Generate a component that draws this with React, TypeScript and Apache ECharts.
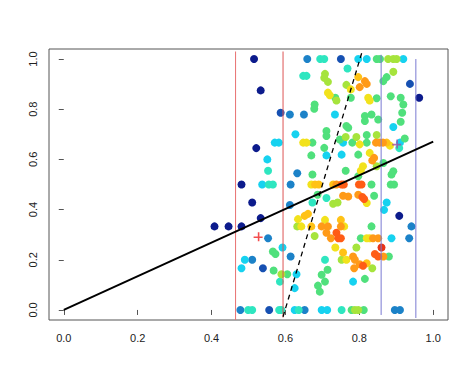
import React, { useEffect, useRef } from "react";
import * as echarts from "echarts";

// tick labels
const tickValues = [0, 0.2, 0.4, 0.6, 0.8, 1.0];

// scatter points grouped by colour class, [x, y]
const navy = [[0.515,1.0],[0.533,0.875],[0.962,0.846],[0.521,0.645],[0.481,0.5],[0.510,0.428],[0.408,0.333],[0.446,0.333],[0.481,0.333],[0.533,0.366],[0.908,0.375]];
const darkBlue = [[0.750,1.0],[0.937,0.901],[0.587,0.786],[0.539,0.166],[0.556,0]];
const blue = [[0.659,1.0],[0.612,0.779],[0.650,0.779],[0.632,0.545],[0.614,0.5],[0.612,0.418],[0.941,0.333],[0.935,0.286],[0.553,0.286],[0.614,0.213],[0.510,0.200],[0.478,0],[0.652,0],[0.896,0],[0.910,0]];
const cyan = [[0.797,1.0],[0.820,1.0],[0.919,1.0],[0.734,0.779],[0.892,0.729],[0.627,0.700],[0.571,0.667],[0.582,0.667],[0.756,0.667],[0.910,0.667],[0.551,0.600],[0.711,0.616],[0.752,0.619],[0.537,0.5],[0.874,0.428],[0.867,0.399],[0.887,0.286],[0.592,0.249],[0.490,0.200],[0.481,0.166],[0.630,0.142],[0.625,0.087],[0.783,0.113],[0.625,0],[0.698,0],[0.713,0]];
const teal = [[0.694,1.0],[0.705,1.0],[0.648,0.933],[0.657,0.933],[0.768,0.962],[0.908,0.645],[0.553,0.555],[0.555,0.5],[0.566,0.5],[0.711,0.446],[0.673,0.428],[0.707,0.200],[0.585,0.113],[0.499,0],[0.510,0],[0.583,0],[0.589,0],[0.636,0],[0.752,0]];
const green = [[0.847,1.0],[0.856,1.0],[0.865,0.912],[0.874,0.928],[0.735,0.846],[0.777,0.846],[0.847,0.844],[0.885,0.852],[0.912,0.846],[0.919,0.819],[0.679,0.819],[0.678,0.802],[0.815,0.773],[0.815,0.753],[0.833,0.779],[0.851,0.759],[0.916,0.786],[0.912,0.750],[0.765,0.733],[0.770,0.726],[0.711,0.713],[0.711,0.693],[0.820,0.697],[0.923,0.683],[0.747,0.679],[0.673,0.667],[0.781,0.667],[0.820,0.667],[0.705,0.646],[0.670,0.616],[0.797,0.619],[0.673,0.540],[0.865,0.586],[0.892,0.553],[0.887,0.540],[0.797,0.533],[0.763,0.555],[0.833,0.5],[0.885,0.5],[0.894,0.5],[0.687,0.459],[0.840,0.455],[0.833,0.333],[0.804,0.286],[0.880,0.213],[0.566,0.233],[0.573,0.223],[0.568,0.157],[0.605,0.142],[0.714,0.160],[0.698,0.140],[0.707,0.113],[0.688,0.097],[0.693,0.073],[0.815,0.124],[0.779,0],[0.812,0]];
const yellowGreen = [[0.878,1.0],[0.892,1.0],[0.901,1.0],[0.707,0.941],[0.705,0.925],[0.715,0.909],[0.765,0.897],[0.892,0.949],[0.738,0.835],[0.792,0.689],[0.763,0.689],[0.847,0.697],[0.847,0.573],[0.729,0.423],[0.741,0.428],[0.632,0.333],[0.679,0.295],[0.792,0.249],[0.752,0.200],[0.835,0.166],[0.589,0.142],[0.788,0],[0.797,0]];
const yellow = [[0.777,0.879],[0.715,0.866],[0.720,0.856],[0.824,0.846],[0.828,0.835],[0.801,0.660],[0.648,0.667],[0.657,0.667],[0.883,0.655],[0.828,0.626],[0.810,0.573],[0.804,0.555],[0.670,0.5],[0.820,0.426],[0.634,0.362],[0.643,0.333],[0.707,0.359],[0.759,0.333],[0.820,0.286],[0.828,0.286],[0.735,0.249],[0.765,0.200]];
const orangeYellow = [[0.797,0.928],[0.874,0.667],[0.680,0.5],[0.690,0.5],[0.729,0.5],[0.652,0.375],[0.661,0.383],[0.670,0.333],[0.750,0.359],[0.756,0.229],[0.820,0.186]];
const orange = [[0.815,0.912],[0.820,0.901],[0.801,0.888],[0.845,0.667],[0.855,0.667],[0.864,0.667],[0.840,0.606],[0.835,0.596],[0.738,0.5],[0.756,0.455],[0.770,0.452],[0.797,0.459],[0.698,0.333],[0.715,0.333],[0.750,0.333],[0.711,0.308],[0.723,0.286],[0.837,0.286],[0.851,0.286],[0.865,0.213],[0.783,0.213],[0.788,0.200],[0.801,0.182],[0.786,0.166]];
const redOrange = [[0.752,0.5],[0.758,0.5],[0.799,0.5],[0.806,0.5],[0.808,0.450],[0.813,0.442],[0.738,0.308],[0.743,0.286],[0.750,0.286],[0.842,0.223],[0.851,0.213],[0.810,0.176]];
const red = [[0.860,0.249]];

// vertical reference segments
const vlineX = [0.465, 0.5935, 0.859, 0.953];
const vlineTop = [1.03, 1.03, 1.017, 1.0];
const vlineBottom = [-0.04, -0.03, -0.02, -0.032];

// fitted lines
const solidLine = [[0, 0], [1, 0.671]];
const dashedLine = [[0.5935, -0.027], [0.8076, 1.03]];

// plus markers
const redPlus = [[0.526, 0.292]];
const purplePlus = [[0.901, 0.661]];

const groups: [number[][], string][] = [
  [navy, "#0c1b8c"],
  [darkBlue, "#1650b2"],
  [blue, "#1c82c8"],
  [cyan, "#16d2f0"],
  [teal, "#2ee6c0"],
  [green, "#50e07c"],
  [yellowGreen, "#a6e43c"],
  [yellow, "#f2e21c"],
  [orangeYellow, "#ffc216"],
  [orange, "#ff9a18"],
  [redOrange, "#ff5c16"],
  [red, "#e8341a"],
];
const vlineColors = ["#e87070", "#dd5555", "#7a7ad2", "#7a7ad2"];

const plusPath = "path://M0 4.2 H9 V5.8 H0 Z M4.2 0 H5.8 V9 H4.2 Z";

export default function App() {
  const ref = useRef<HTMLDivElement>(null);
  useEffect(() => {
    if (!ref.current) return;
    const chart = echarts.init(ref.current, undefined, { renderer: "svg" });
    const font = { fontFamily: "Liberation Sans, Arial, sans-serif", fontSize: 11, color: "#222" };
    const series: any[] = [];
    groups.forEach(([data, color]) => {
      series.push({
        type: "scatter",
        data,
        symbol: "circle",
        symbolSize: 8,
        itemStyle: { color, opacity: 1 },
        z: 2,
        silent: true,
      });
    });
    vlineX.forEach((x, i) => {
      series.push({
        type: "line",
        data: [[x, vlineBottom[i]], [x, vlineTop[i]]],
        symbol: "none",
        lineStyle: { color: vlineColors[i], width: 1 },
        z: 3,
        silent: true,
      });
    });
    series.push({
      type: "line",
      data: solidLine,
      symbol: "none",
      lineStyle: { color: "#000", width: 2 },
      z: 4,
      silent: true,
    });
    series.push({
      type: "line",
      data: dashedLine,
      symbol: "none",
      lineStyle: { color: "#000", width: 1.3, type: [5, 4] },
      z: 4,
      silent: true,
    });
    series.push({
      type: "scatter",
      data: redPlus,
      symbol: plusPath,
      symbolSize: 9,
      itemStyle: { color: "#f02020" },
      z: 5,
      silent: true,
    });
    series.push({
      type: "scatter",
      data: purplePlus,
      symbol: plusPath,
      symbolSize: 9,
      itemStyle: { color: "#a04aa8" },
      z: 5,
      silent: true,
    });
    chart.setOption({
      animation: false,
      backgroundColor: "#fff",
      grid: {
        left: 49,
        top: 49,
        right: 26,
        bottom: 62,
        show: true,
        borderColor: "#555",
        borderWidth: 1,
      },
      xAxis: {
        type: "value",
        min: -0.04,
        max: 1.04,
        axisLine: { show: false },
        splitLine: { show: false },
        axisTick: {
          show: true,
          customValues: tickValues,
          length: 5,
          lineStyle: { color: "#555" },
        },
        axisLabel: {
          customValues: tickValues,
          formatter: (v: number) => v.toFixed(1),
          margin: 12,
          ...font,
        },
      },
      yAxis: {
        type: "value",
        min: -0.04,
        max: 1.04,
        axisLine: { show: false },
        splitLine: { show: false },
        axisTick: {
          show: true,
          customValues: tickValues,
          length: 5,
          lineStyle: { color: "#555" },
        },
        axisLabel: {
          customValues: tickValues,
          formatter: (v: number) => v.toFixed(1),
          rotate: 90,
          margin: 11,
          ...font,
        },
      },
      series,
    });
    return () => chart.dispose();
  }, []);
  return (
    <div
      ref={ref}
      style={{ position: "fixed", left: 0, top: 0, width: 474, height: 382, background: "#fff" }}
    />
  );
}
